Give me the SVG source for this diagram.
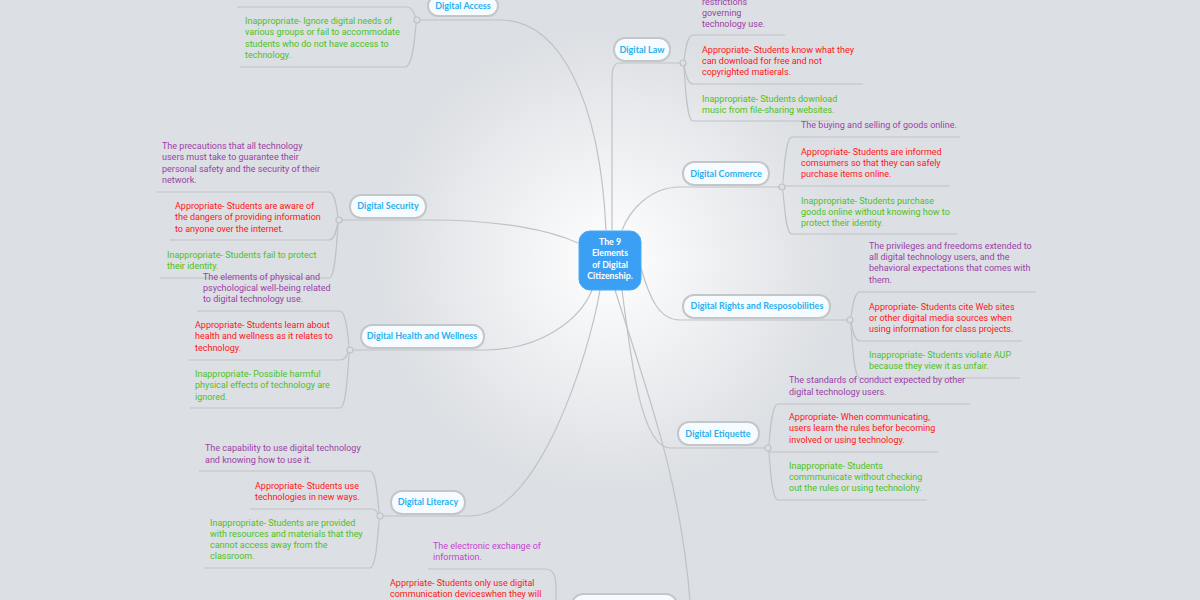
<svg xmlns="http://www.w3.org/2000/svg" width="1200" height="600" viewBox="0 0 1200 600">
<defs>
<radialGradient id="glow" cx="610" cy="260" r="230" gradientUnits="userSpaceOnUse">
<stop offset="0" stop-color="#ffffff"/><stop offset="0.4" stop-color="#f1f2f4"/><stop offset="1" stop-color="#dcdfe3"/>
</radialGradient>
<style>
.c{fill:none;stroke:#bfc2c6;stroke-width:1.2}
.dot{fill:#dcdfe3;stroke:#bfc2c6;stroke-width:1.2}
.pill{fill:#f6fbff;stroke:#c3c6ca;stroke-width:2}
.nt{font-family:Lato,"Open Sans",sans-serif;font-weight:bold;font-size:9px;fill:#2ab0ef;text-anchor:middle}
.t{font-family:Roboto,"Liberation Sans",sans-serif;font-size:9px}
.p{fill:#9a3fa6}.r{fill:#ff1616}.g{fill:#4cc21c}.m{fill:#c83fd4}
</style>
</defs>
<rect width="1200" height="600" fill="#dcdfe3"/>
<rect width="1200" height="600" fill="url(#glow)"/>
<g id="connectors">
<path class="c" d="M417,20 H500 C560,20 600,100 606,230"/>
<path class="c" d="M683,63 H620 C613,63 612,70 612,80 V230"/>
<path class="c" d="M782,187 H680 C650,187 630,210 622,230"/>
<path class="c" d="M339,220 H430 C500,220 550,230 578,243"/>
<path class="c" d="M850,320 H680 C660,320 650,300 641,268"/>
<path class="c" d="M350,350 H485 C540,350 580,320 592,290"/>
<path class="c" d="M768,448 H670 C640,448 630,350 622,290"/>
<path class="c" d="M380,516 H470 C540,516 590,350 600,290"/>
<path class="c" d="M615,290 C650,400 680,480 690,600"/>
<path class="c" d="M237,7 H407 C415,7 415,20 417,20"/>
<path class="c" d="M240,67 H405 C415,67 415,20 417,20"/>
<path class="c" d="M785,35 H693 C685,35 685,63 683,63"/>
<path class="c" d="M863,84 H693 C685,84 685,63 683,63"/>
<path class="c" d="M830,121 H693 C685,121 685,63 683,63"/>
<path class="c" d="M960,137 H792 C784,137 784,187 782,187"/>
<path class="c" d="M950,186 H782"/>
<path class="c" d="M957,234 H792 C784,234 784,187 782,187"/>
<path class="c" d="M157,192 H329 C337,192 337,220 339,220"/>
<path class="c" d="M170,240 H329 C337,240 337,220 339,220"/>
<path class="c" d="M160,278 H329 C337,278 337,220 339,220"/>
<path class="c" d="M1036,292 H860 C852,292 852,320 850,320"/>
<path class="c" d="M1022,341 H860 C852,341 852,320 850,320"/>
<path class="c" d="M1020,378 H860 C852,378 852,320 850,320"/>
<path class="c" d="M197,311 H340 C348,311 348,350 350,350"/>
<path class="c" d="M189,360 H340 C348,360 348,350 350,350"/>
<path class="c" d="M190,408 H340 C348,408 348,350 350,350"/>
<path class="c" d="M970,404 H778 C770,404 770,448 768,448"/>
<path class="c" d="M938,452 H768"/>
<path class="c" d="M927,500 H778 C770,500 770,448 768,448"/>
<path class="c" d="M199,471 H370 C378,471 378,516 380,516"/>
<path class="c" d="M250,509 H372 C378,509 378,516 380,516"/>
<path class="c" d="M204,568 H370 C378,568 378,516 380,516"/>
<path class="c" d="M428,569 H545 C555,569 556,578 556,590 V600"/>
<circle class="dot" cx="417" cy="20" r="3"/>
<circle class="dot" cx="683" cy="63" r="3"/>
<circle class="dot" cx="782" cy="187" r="3"/>
<circle class="dot" cx="339" cy="220" r="3"/>
<circle class="dot" cx="850" cy="320" r="3"/>
<circle class="dot" cx="350" cy="350" r="3"/>
<circle class="dot" cx="768" cy="448" r="3"/>
<circle class="dot" cx="380" cy="516" r="3"/>
</g>
<g id="center">
<rect x="579" y="231" width="62" height="59" rx="11" fill="#3b9ff3" stroke="#4aa8f5"/>
<text font-family="Lato,'Open Sans',sans-serif" font-weight="bold" font-size="8.8" fill="#fff" text-anchor="middle"><tspan x="610" y="245">The 9</tspan><tspan x="610" y="256">Elements</tspan><tspan x="610" y="268">of Digital</tspan><tspan x="610" y="279">Citizenship.</tspan></text>
</g>
<g id="access">
<rect class="pill" x="428" y="-4" width="70" height="20" rx="10"/><text class="nt" x="463" y="9">Digital Access</text>
<text class="t g"><tspan x="245" y="24">Inappropriate- Ignore digital needs of</tspan><tspan x="245" y="35">various groups or fail to accommodate</tspan><tspan x="245" y="47">students who do not have access to</tspan><tspan x="245" y="58">technology.</tspan></text>
</g>
<g id="law">
<rect class="pill" x="614" y="38" width="56" height="23" rx="11"/><text class="nt" x="642" y="53">Digital Law</text>
<text class="t p"><tspan x="702" y="5">restrictions</tspan><tspan x="702" y="16">governing</tspan><tspan x="702" y="27">technology use.</tspan></text>
<text class="t r"><tspan x="702" y="53">Appropriate- Students know what they</tspan><tspan x="702" y="64">can download for free and not</tspan><tspan x="702" y="75">copyrighted matierals.</tspan></text>
<text class="t g"><tspan x="702" y="102">Inappropriate- Students download</tspan><tspan x="702" y="113">music from file-sharing websites.</tspan></text>
</g>
<g id="commerce">
<rect class="pill" x="683" y="162" width="86" height="23" rx="11"/><text class="nt" x="726" y="177">Digital Commerce</text>
<text class="t p"><tspan x="801" y="128">The buying and selling of goods online.</tspan></text>
<text class="t r"><tspan x="801" y="155">Appropriate- Students are informed</tspan><tspan x="801" y="166">comsumers so that they can safely</tspan><tspan x="801" y="177">purchase items online.</tspan></text>
<text class="t g"><tspan x="801" y="204">Inappropriate- Students purchase</tspan><tspan x="801" y="215">goods online without knowing how to</tspan><tspan x="801" y="226">protect their identity.</tspan></text>
</g>
<g id="security">
<rect class="pill" x="350" y="195" width="76" height="23" rx="11"/><text class="nt" x="388" y="209">Digital Security</text>
<text class="t p"><tspan x="162" y="149">The precautions that all technology</tspan><tspan x="162" y="160">users must take to guarantee their</tspan><tspan x="162" y="172">personal safety and the security of their</tspan><tspan x="162" y="183">network.</tspan></text>
<text class="t r"><tspan x="175" y="209">Appropriate- Students are aware of</tspan><tspan x="175" y="220">the dangers of providing information</tspan><tspan x="175" y="232">to anyone over the internet.</tspan></text>
<text class="t g"><tspan x="167" y="258">Inappropriate- Students fail to protect</tspan><tspan x="167" y="269">their identity.</tspan></text>
</g>
<g id="rights">
<rect class="pill" x="683" y="295" width="147" height="23" rx="11"/><text class="nt" x="757" y="309">Digital Rights and Resposobilities</text>
<text class="t p"><tspan x="869" y="249">The privileges and freedoms extended to</tspan><tspan x="869" y="260">all digital technology users, and the</tspan><tspan x="869" y="271">behavioral expectations that comes with</tspan><tspan x="869" y="283">them.</tspan></text>
<text class="t r"><tspan x="869" y="310">Appropriate- Students cite Web sites</tspan><tspan x="869" y="321">or other digital media sources when</tspan><tspan x="869" y="332">using information for class projects.</tspan></text>
<text class="t g"><tspan x="869" y="358">Inappropriate- Students violate AUP</tspan><tspan x="869" y="369">because they view it as unfair.</tspan></text>
</g>
<g id="health">
<rect class="pill" x="361" y="325" width="123" height="23" rx="11"/><text class="nt" x="422" y="339">Digital Health and Wellness</text>
<text class="t p"><tspan x="203" y="280">The elements of physical and</tspan><tspan x="203" y="291">psychological well-being related</tspan><tspan x="203" y="302">to digital technology use.</tspan></text>
<text class="t r"><tspan x="195" y="328">Appropriate- Students learn about</tspan><tspan x="195" y="339">health and wellness as it relates to</tspan><tspan x="195" y="351">technology.</tspan></text>
<text class="t g"><tspan x="195" y="377">Inappropriate- Possible harmful</tspan><tspan x="195" y="388">physical effects of technology are</tspan><tspan x="195" y="400">ignored.</tspan></text>
</g>
<g id="etiquette">
<rect class="pill" x="678" y="422" width="81" height="23" rx="11"/><text class="nt" x="718" y="437">Digital Etiquette</text>
<text class="t p"><tspan x="789" y="383">The standards of conduct expected by other</tspan><tspan x="789" y="395">digital technology users.</tspan></text>
<text class="t r"><tspan x="789" y="420">Appropriate- When communicating,</tspan><tspan x="789" y="431">users learn the rules befor becoming</tspan><tspan x="789" y="443">involved or using technology.</tspan></text>
<text class="t g"><tspan x="789" y="469">Inappropriate- Students</tspan><tspan x="789" y="480">commmunicate without checking</tspan><tspan x="789" y="491">out the rules or using technolohy.</tspan></text>
</g>
<g id="literacy">
<rect class="pill" x="391" y="491" width="74" height="23" rx="11"/><text class="nt" x="428" y="505">Digital Literacy</text>
<text class="t p"><tspan x="205" y="451">The capability to use digital technology</tspan><tspan x="205" y="463">and knowing how to use it.</tspan></text>
<text class="t r"><tspan x="255" y="489">Appropriate- Students use</tspan><tspan x="255" y="500">technologies in new ways.</tspan></text>
<text class="t g"><tspan x="210" y="526">Inappropriate- Students are provided</tspan><tspan x="210" y="537">with resources and materials that they</tspan><tspan x="210" y="548">cannot access away from the</tspan><tspan x="210" y="559">classroom.</tspan></text>
</g>
<g id="communication">
<rect class="pill" x="572" y="594" width="105" height="23" rx="11"/>
<text class="t m"><tspan x="433" y="549">The electronic exchange of</tspan><tspan x="433" y="560">information.</tspan></text>
<text class="t r"><tspan x="390" y="586">Apprpriate- Students only use digital</tspan><tspan x="390" y="597">communication deviceswhen they will</tspan></text>
</g>
</svg>
